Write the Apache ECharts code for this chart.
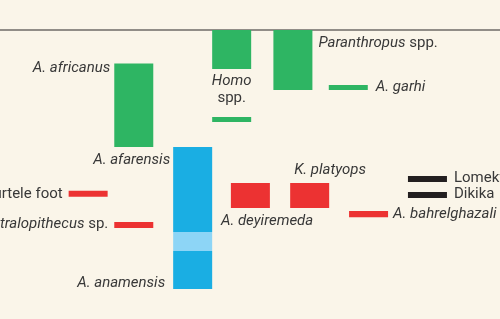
<!DOCTYPE html>
<html>
<head>
<meta charset="utf-8">
<script src="https://cdn.jsdelivr.net/npm/echarts@6/dist/echarts.min.js"></script>
<style>
  html, body { margin: 0; padding: 0; background: #faf5e9; }
  #chart { width: 500px; height: 319px; }
</style>
</head>
<body>
<div id="chart"></div>
<script>
// taxa, one range bar each; x = column start (bar widths), y = age in Ma
const taxa = [
  "Burtele foot", "Australopithecus sp.", "A. africanus", "A. afarensis", "", "A. anamensis",
  "Homo spp.", "", "A. deyiremeda", "Paranthropus spp.", "K. platyops", "A. garhi",
  "A. bahrelghazali", "Lomekwi", "Dikika",
];
const colStart = [1.76, 2.93, 2.93, 4.44, 4.44, 4.44, 5.44, 5.44, 5.92, 7.01, 7.44, 8.43, 8.95, 10.46, 10.46];
const ageTop = [3.34, 3.60, 2.28, 2.975, 3.683, 3.842, 2.0, 2.725, 3.275, 2.0, 3.275, 2.458, 3.508, 3.217, 3.35];
const ageBottom = [3.39, 3.65, 2.975, 3.683, 3.842, 4.158, 2.325, 2.767, 3.483, 2.5, 3.483, 2.5, 3.56, 3.267, 3.40];
const group = ["red", "red", "green", "blue", "lightblue", "blue", "green", "green", "red", "green", "red", "green", "red", "black", "black"];

const COLORS = { green: "#2eb563", blue: "#1aaee3", lightblue: "#8dd5f6", red: "#ec3232", black: "#231f20" };
const FONT = "Roboto, 'Liberation Sans', sans-serif";

// label placement: [anchor x, dx, anchor y, dy, align]
const labelPlace = {
  "Burtele foot": ["left", -6, "mid", 0, "right"],
  "Australopithecus sp.": ["left", -6, "mid", -1, "right"],
  "A. africanus": ["left", -4, "top", 5, "right"],
  "A. afarensis": ["left", -3, "top", 13, "right"],
  "A. anamensis": ["left", -8, "bottom", -6, "right"],
  "Homo spp.": ["center", 0, "bottom", 4, "center"],
  "A. deyiremeda": ["left", -10, "bottom", 13, "left"],
  "Paranthropus spp.": ["right", 6, "top", 13, "left"],
  "K. platyops": ["left", 4, "top", -13, "left"],
  "A. garhi": ["right", 8, "mid", 0, "left"],
  "A. bahrelghazali": ["right", 5, "mid", 0, "left"],
  "Lomekwi": ["right", 7, "mid", -1, "left"],
  "Dikika": ["right", 7, "mid", -1, "left"],
};

function labelText(name) {
  if (name === "Australopithecus sp.") return "{i|Australopithecus} sp.";
  if (name === "Paranthropus spp.") return "{i|Paranthropus} spp.";
  if (name === "Homo spp.") return "{i|Homo}\nspp.";
  if (name.startsWith("A. ") || name.startsWith("K. ")) return "{i|" + name + "}";
  return name;
}

const data = taxa.map((t, i) => [colStart[i], ageTop[i], ageBottom[i], i]);

function renderItem(params, api) {
  const i = api.value(3);
  const p1 = api.coord([api.value(0), api.value(1)]);
  const p2 = api.coord([api.value(0) + 1, api.value(2)]);
  const children = [{
    type: "rect",
    shape: { x: p1[0], y: p1[1], width: p2[0] - p1[0], height: p2[1] - p1[1] },
    style: { fill: COLORS[group[i]] },
  }];
  const name = taxa[i];
  const place = labelPlace[name];
  if (place) {
    const ax = place[0] === "left" ? p1[0] : place[0] === "right" ? p2[0] : (p1[0] + p2[0]) / 2;
    const ay = place[2] === "top" ? p1[1] : place[2] === "bottom" ? p2[1] : (p1[1] + p2[1]) / 2;
    const isHomo = name === "Homo spp.";
    children.push({
      type: "text",
      style: {
        text: labelText(name),
        x: ax + place[1],
        y: ay + place[3],
        align: place[4],
        verticalAlign: isHomo ? "top" : "middle",
        fontFamily: FONT,
        fontSize: 15,
        lineHeight: 17,
        fill: "#383838",
        rich: { i: { fontStyle: "italic", fontFamily: FONT, fontSize: 15, fill: "#383838", lineHeight: 17 } },
      },
    });
  }
  return { type: "group", children };
}

const chart = echarts.init(document.getElementById("chart"));
chart.setOption({
  backgroundColor: "#faf5e9",
  animation: false,
  grid: { left: 0, right: 0, top: 30, bottom: 1 },
  xAxis: {
    type: "value", position: "top", min: 0, max: 12.82,
    axisLine: { show: true, lineStyle: { color: "#6e6a66", width: 1.5 } },
    axisTick: { show: false }, axisLabel: { show: false }, splitLine: { show: false },
  },
  yAxis: {
    type: "value", inverse: true, min: 2.0, max: 4.4,
    axisLine: { show: false }, axisTick: { show: false }, axisLabel: { show: false }, splitLine: { show: false },
  },
  series: [{ type: "custom", renderItem, data, clip: false }],
});
</script>
</body>
</html>
